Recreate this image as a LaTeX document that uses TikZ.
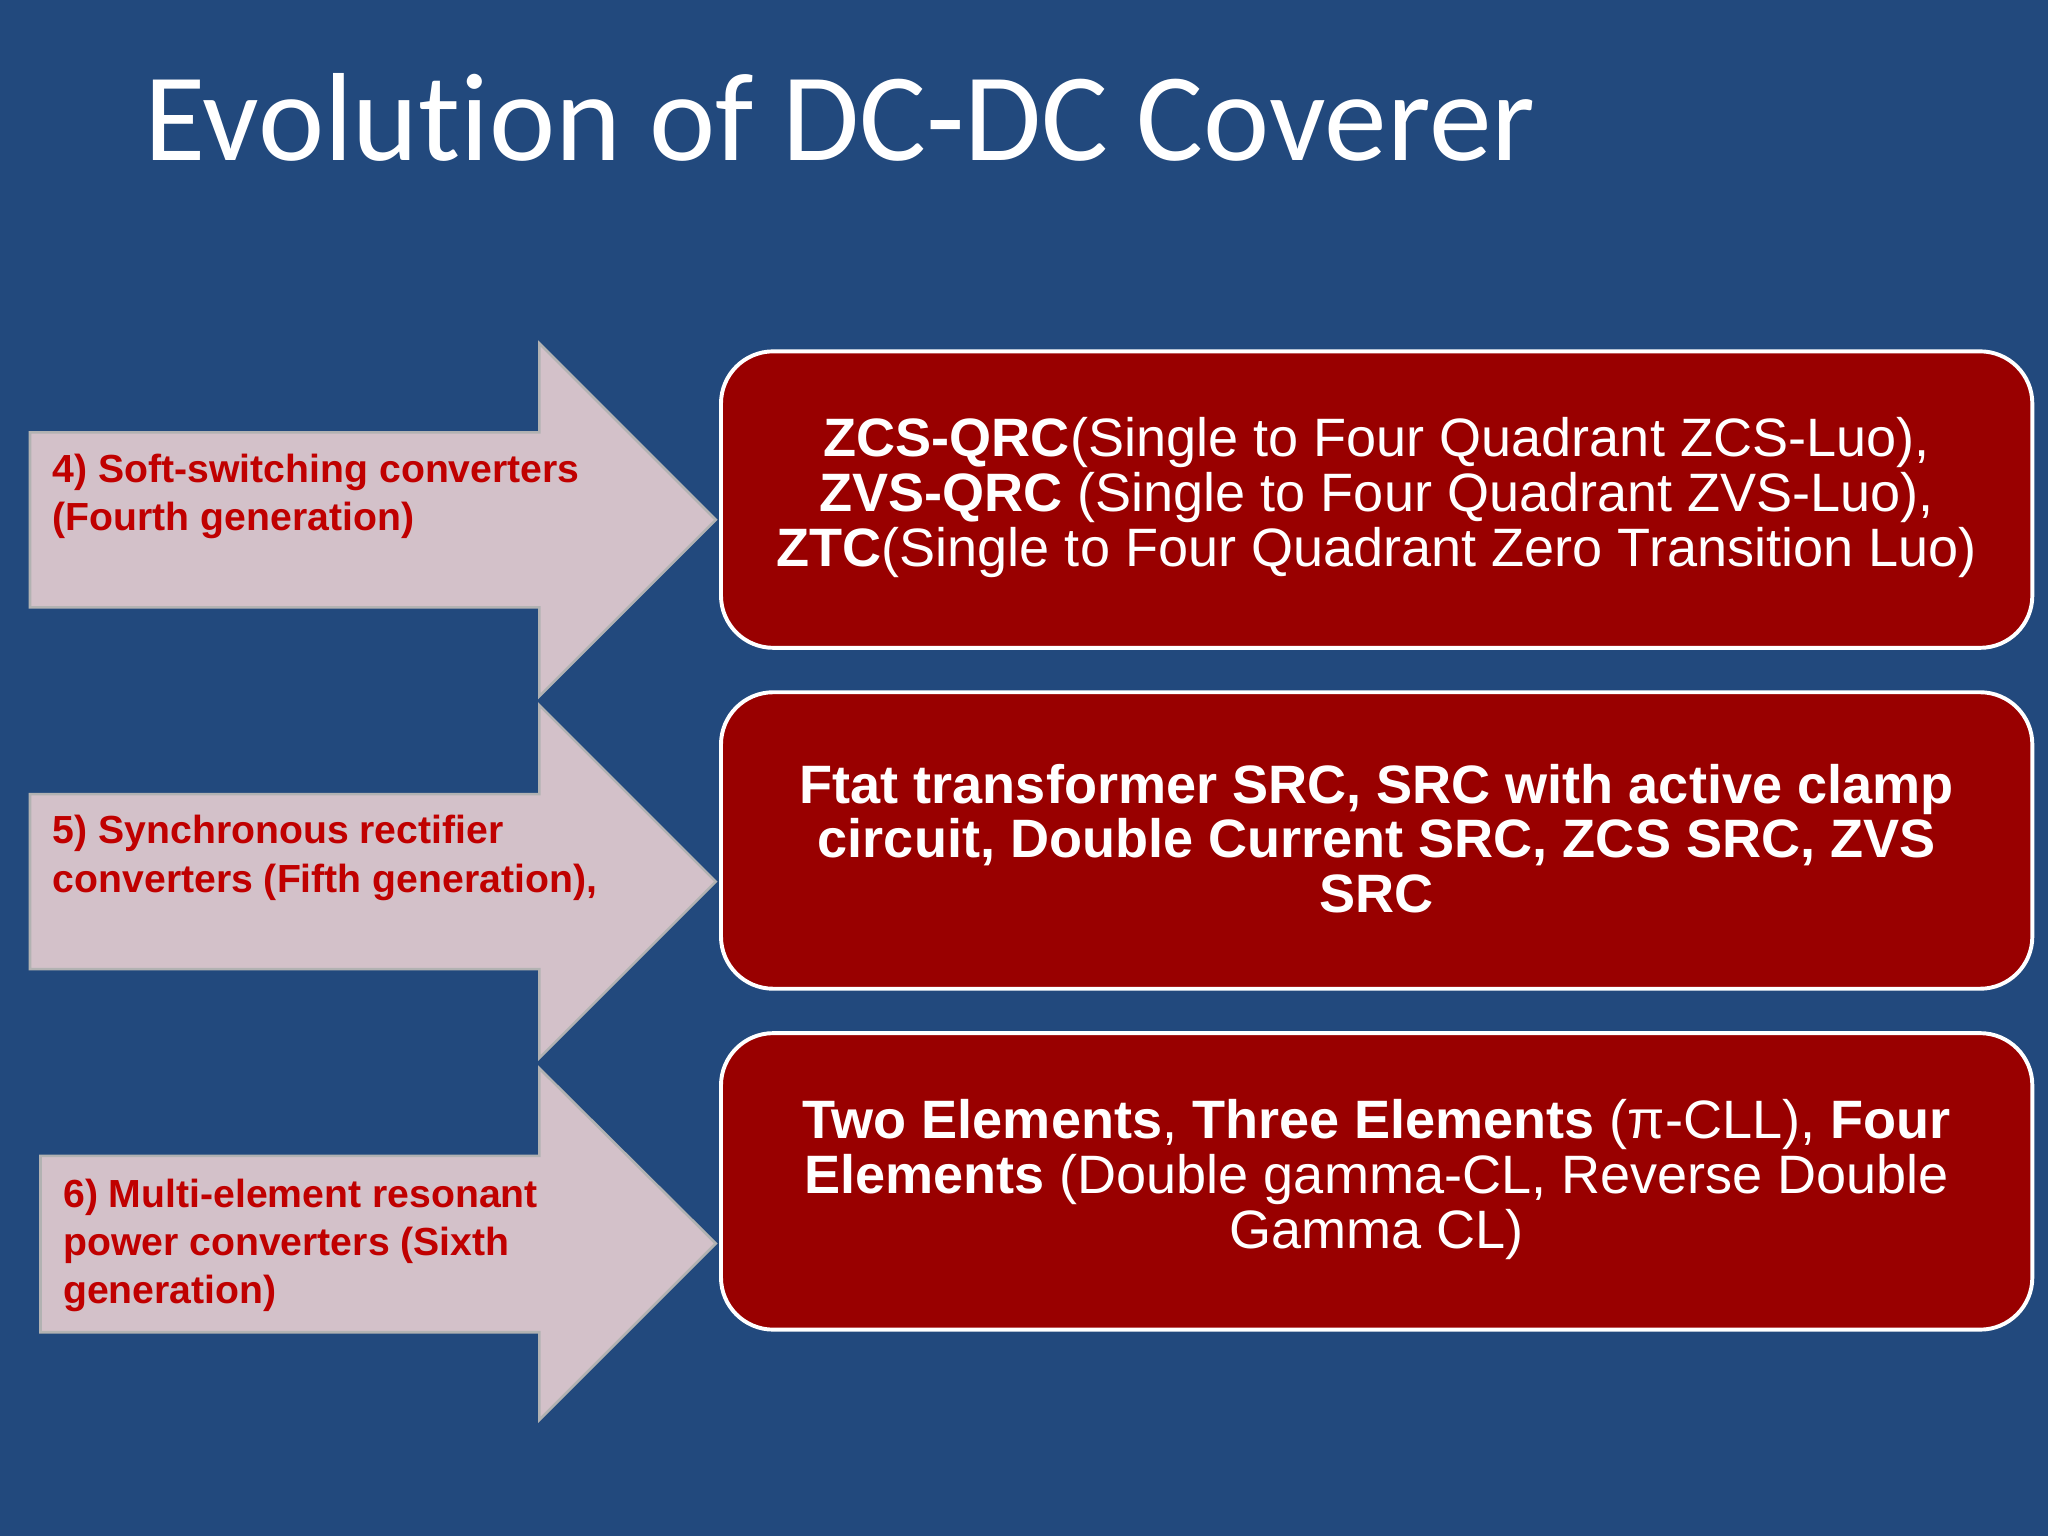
\documentclass[tikz,border=0pt]{standalone}
\usepackage{fontspec}
\setmainfont{Liberation Sans}
\newfontfamily\titlefont[Ligatures={NoCommon,NoRequired}]{Carlito}
\definecolor{bg}{HTML}{22497D}
\definecolor{boxred}{HTML}{990000}
\definecolor{arrowfill}{HTML}{D3C1C9}
\definecolor{labred}{HTML}{C00000}
\tikzset{
 gen/.style={fill=arrowfill,draw=gray!60,line width=1pt},
 rbox/.style={fill=boxred,draw=white,line width=1.5pt,rounded corners=20pt},
 lab/.style={anchor=north west,align=left,text=labred,font=\fontsize{15}{18.5}\selectfont\bfseries,inner sep=0pt},
 btxt/.style={align=center,text=white,font=\fontsize{20.7}{21}\selectfont,inner sep=0pt}
}
\begin{document}
\begin{tikzpicture}[x=0.5pt,y=-0.5pt]
\useasboundingbox (0,0) rectangle (1568,1176);
\fill[bg] (0,0) rectangle (1568,1176);
\node[anchor=west,text=white,font=\titlefont\fontsize{48}{56}\selectfont,inner sep=0pt] (title) at (110,90) {Evolution of DC-DC Coverer};
% arrows
\draw[gen] (23,331) -- (413,331) -- (413,263) -- (548,398) -- (413,533) -- (413,465) -- (23,465) -- cycle;
\draw[gen] (23,608) -- (413,608) -- (413,540) -- (548,675) -- (413,810) -- (413,742) -- (23,742) -- cycle;
\draw[gen] (31,885) -- (413,885) -- (413,818) -- (548,952) -- (413,1087) -- (413,1020) -- (31,1020) -- cycle;
\node[lab] (l1) at (40,347) {4) Soft-switching converters\\(Fourth generation)};
\node[lab] (l2) at (40,624) {5) Synchronous rectifier\\converters (Fifth generation),};
\node[lab] (l3) at (48,902) {6) Multi-element resonant\\power converters (Sixth\\generation)};
% boxes
\draw[rbox] (552,269) rectangle (1556,496);
\draw[rbox] (552,530) rectangle (1556,757);
\draw[rbox] (552,791) rectangle (1556,1018);
\node[btxt] (b1) at (1054,381) {\textbf{ZCS-QRC}(Single to Four Quadrant ZCS-Luo),\\\textbf{ZVS-QRC} (Single to Four Quadrant ZVS-Luo),\\\textbf{ZTC}(Single to Four Quadrant Zero Transition Luo)};
\node[btxt,font=\fontsize{20.7}{21}\selectfont\bfseries] (b2) at (1054,642) {Ftat transformer SRC, SRC with active clamp\\circuit, Double Current SRC, ZCS SRC, ZVS\\SRC};
\node[btxt] (b3) at (1054,903) {\textbf{Two Elements}, \textbf{Three Elements} (π-CLL), \textbf{Four}\\\textbf{Elements} (Double gamma-CL, Reverse Double\\Gamma CL)};
\end{tikzpicture}
\end{document}
